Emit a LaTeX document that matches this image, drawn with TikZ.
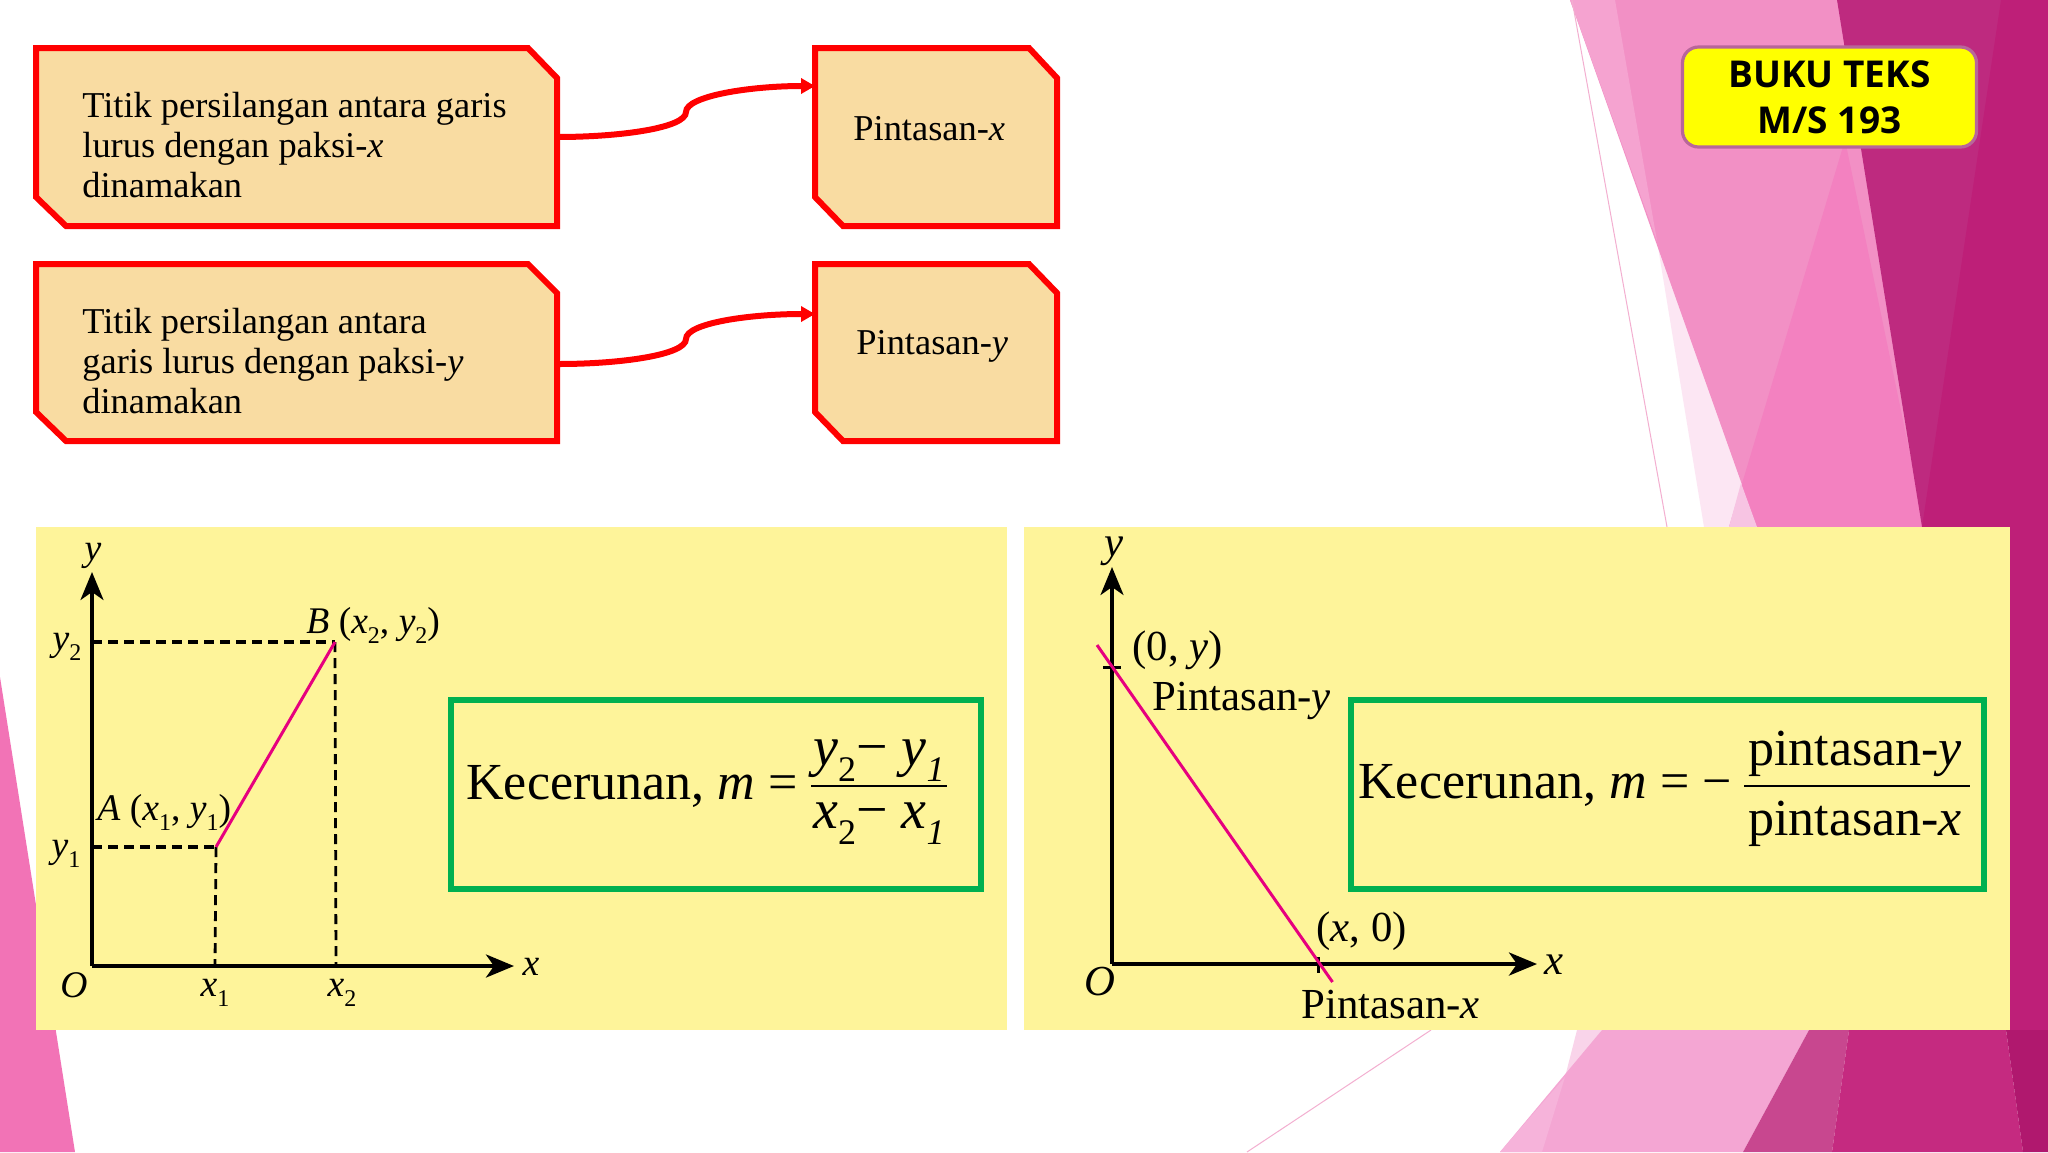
\documentclass[tikz,border=0pt]{standalone}
\usepackage{fontspec}
\setmainfont{Liberation Serif}
\newfontfamily\badgefont{Open Sans}
\usetikzlibrary{arrows.meta}
\definecolor{peach}{HTML}{F9DCA2}
\definecolor{panelyellow}{HTML}{FEF49A}
\definecolor{boxgreen}{HTML}{00B050}
\definecolor{linemagenta}{HTML}{E6007E}
\definecolor{badgeline}{HTML}{B8669A}
\definecolor{badgefill}{HTML}{FFFF00}
\definecolor{thinpink}{HTML}{F3AFD0}
\definecolor{leftpink}{HTML}{F273B6}
\definecolor{pale}{HTML}{FCE6F3}
\definecolor{sweep}{HTML}{F290C5}
\definecolor{sweeplight}{HTML}{F5A3D0}
\definecolor{midpink}{HTML}{F381C0}
\definecolor{overlap}{HTML}{F7C4E3}
\definecolor{darkpink}{HTML}{BE2A7F}
\definecolor{darkest}{HTML}{BE1F78}
\definecolor{bpale}{HTML}{F9D4EA}
\definecolor{blight}{HTML}{F4A6D3}
\definecolor{bsliver}{HTML}{F6B3DA}
\definecolor{bstrip}{HTML}{C8478F}
\definecolor{bdark}{HTML}{C52A80}
\definecolor{bdarkest}{HTML}{B0186E}
\newcommand{\lsub}[1]{\raisebox{-0.28em}{\fontsize{12}{12}\selectfont #1}}
\newcommand{\fsub}[1]{\raisebox{-0.3em}{\fontsize{18}{18}\selectfont #1}}
\tikzset{
  chamfer/.style={draw=red,line width=3pt,fill=peach,line join=miter},
  anchorbox/.style={inner sep=0pt,draw=none},
  boxtext/.style={anchor=base west,inner sep=0pt,font=\fontsize{18.2}{20}\selectfont,align=left},
  elbow/.style={draw=red,line width=3pt,-{Triangle[length=7pt,width=7.5pt]}},
  panel/.style={fill=panelyellow,draw=none},
  greenbox/.style={draw=boxgreen,line width=2.8pt,fill=none},
  axisline/.style={draw=black,line width=1.6pt,-{Stealth[length=14pt,width=11.5pt,inset=4pt]}},
  dashline/.style={draw=black,line width=1.4pt,dash pattern=on 5pt off 3pt},
  slopeline/.style={draw=linemagenta,line width=1.5pt},
  lbl/.style={anchor=base,inner sep=0pt,font=\fontsize{18.8}{21}\selectfont},
  lbltwo/.style={anchor=base,inner sep=0pt,font=\fontsize{21.4}{23}\selectfont},
  formula/.style={anchor=base,inner sep=0pt,font=\fontsize{26}{28}\selectfont},
  fracterm/.style={anchor=base,inner sep=0pt,font=\fontsize{28}{30}\selectfont},
  badge/.style={draw=badgeline,line width=1.6pt,fill=badgefill,rounded corners=8pt,align=center,
    inner sep=0pt,minimum width=147pt,minimum height=50pt,
    font=\badgefont\bfseries\fontsize{18.5}{23}\selectfont},
  hairline/.style={draw=thinpink,line width=0.5pt},
}
\begin{document}
\begin{tikzpicture}[x=0.5pt,y=-0.5pt]
\useasboundingbox (0,0) rectangle (2048,1152);
% background facets
\fill[white] (0,0) rectangle (2048,1152);
\fill[leftpink] (0,677) -- (75,1152) -- (0,1152) -- cycle;
\fill[pale] (1657,241) -- (1704,527) -- (1760,527) -- cycle;
\fill[sweep] (1570,0) -- (1840,0) -- (1925,527) -- (1757,527) -- cycle;
\fill[sweeplight] (1570,0) -- (1615,0) -- (1657,241) -- cycle;
\fill[midpink] (1845,140) -- (1925,527) -- (1729,527) -- cycle;
\fill[overlap] (1729,527) -- (1757,527) -- (1741,483) -- cycle;
\fill[darkpink] (1837,0) -- (2048,0) -- (2048,527) -- (1922,527) -- cycle;
\fill[darkest] (2001,0) -- (2048,0) -- (2048,1030) -- (2005,1030) -- (2005,527) -- (1922,527) -- cycle;
\draw[hairline] (1572,0) -- (1667,527);
% bottom facets
\fill[bpale] (1577,1030) -- (1602,1030) -- (1565,1077) -- cycle;
\fill[blight] (1602,1030) -- (1809,1030) -- (1743,1152) -- (1500,1152) -- cycle;
\fill[bsliver] (1565,1077) -- (1542,1152) -- (1500,1152) -- cycle;
\fill[bstrip] (1809,1030) -- (1849,1030) -- (1832,1152) -- (1743,1152) -- cycle;
\fill[bdark] (1849,1030) -- (2006,1030) -- (2023,1152) -- (1832,1152) -- cycle;
\fill[bdarkest] (2006,1030) -- (2048,1030) -- (2048,1152) -- (2023,1152) -- cycle;
\draw[hairline] (1431,1030) -- (1247,1152);

% top boxes
\draw[chamfer] (36,48) -- (528,48) -- (557,78) -- (557,226) -- (66,226) -- (36,197) -- cycle;
\draw[chamfer] (815,48) -- (1029,48) -- (1057,78) -- (1057,226) -- (843,226) -- (815,197) -- cycle;
\draw[chamfer] (36,264) -- (528,264) -- (557,293) -- (557,441) -- (66,441) -- (36,412) -- cycle;
\draw[chamfer] (815,264) -- (1029,264) -- (1057,293) -- (1057,441) -- (843,441) -- (815,412) -- cycle;
\node[anchorbox,minimum width=260.5pt,minimum height=89pt] (boxA) at (296.5,137) {};
\node[anchorbox,minimum width=121pt,minimum height=89pt] (boxB) at (936,137) {};
\node[anchorbox,minimum width=260.5pt,minimum height=88.5pt] (boxC) at (296.5,352.5) {};
\node[anchorbox,minimum width=121pt,minimum height=88.5pt] (boxD) at (936,352.5) {};
\node[boxtext,anchor=west] (textA) at (82,145) {Titik persilangan antara garis\\lurus dengan paksi-\textit{x}\\dinamakan};
\node[boxtext] (textB) at (853,140) {Pintasan-\textit{x}};
\node[boxtext,anchor=west] (textC) at (82,361) {Titik persilangan antara\\garis lurus dengan paksi-\textit{y}\\dinamakan};
\node[boxtext] (textD) at (856,354) {Pintasan-\textit{y}};
% connectors
\coordinate (endB) at (815,86);
\coordinate (startC) at (559,364);
\coordinate (endD) at (815,314);
\draw[elbow] (boxA.east) .. controls (620,137) and (686,128) .. (686,112)
   .. controls (686,96) and (750,86) .. (endB);
\draw[elbow] (startC) .. controls (620,364) and (686,355) .. (686,339)
   .. controls (686,323) and (750,314) .. (endD);

% badge
\node[badge] (badgeN) at (1829.5,97) {\raisebox{-1pt}{BUKU TEKS}\\\raisebox{-1pt}{M/S 193}};

% panels
\fill[panel] (36,527) rectangle (1007,1030);
\fill[panel] (1024,527) rectangle (2010,1030);

% chart 1
\coordinate (O1) at (92,966);
\coordinate (Y1) at (92,572);
\coordinate (X1) at (514,966);
\coordinate (PA) at (216,847);
\coordinate (PB) at (335,642);
\draw[dashline,line width=2.1pt] (92,642) -- (PB);
\draw[dashline,line width=2.1pt] (92,847) -- (PA);
\draw[dashline] (PB) -- (336,966);
\draw[dashline] (PA) -- (215,966);
\draw[axisline] (O1) -- (Y1);
\draw[axisline,line width=2pt] (O1) -- (X1);
\draw[slopeline] (PA) -- (PB);
\node[lbl] (ly) at (93,560) {\textit{y}};
\node[lbl] (ly2) at (67,650) {\textit{y}\lsub{2}};
\node[lbl] (ly1) at (66,857) {\textit{y}\lsub{1}};
\node[lbl] (lO) at (74,997) {\textit{O}};
\node[lbl] (lx1) at (215,996) {\textit{x}\lsub{1}};
\node[lbl] (lx2) at (342,996) {\textit{x}\lsub{2}};
\node[lbl] (lx) at (531,975) {\textit{x}};
\node[lbl,anchor=base west] (lB) at (306,633) {\textit{B} (\textit{x}\lsub{2}, \textit{y}\lsub{2})};
\node[lbl,anchor=base west] (lA) at (97,820) {\textit{A} (\textit{x}\lsub{1}, \textit{y}\lsub{1})};
% formula 1
\draw[greenbox] (451,700) rectangle (981,889);
\node[formula,anchor=base west] (f1) at (466,799) {Kecerunan, \textit{m} =};
\node[fracterm] (f1n) at (879,765) {\textit{y}\fsub{2}− \textit{y}\fsub{\textit{1}}};
\node[fracterm] (f1d) at (879,828) {\textit{x}\fsub{2}− \textit{x}\fsub{\textit{1}}};
\draw[line width=1.3pt] (811,786) -- (947,786);

% chart 2
\coordinate (O2) at (1112,964);
\coordinate (Y2) at (1112,567);
\coordinate (X2) at (1537,964);
\coordinate (LA) at (1097,645);
\coordinate (LB) at (1332.5,982);
\draw[axisline] (O2) -- (Y2);
\draw[axisline,line width=2pt] (O2) -- (X2);
\draw[line width=1.5pt] (1103,667) -- (1121,667);
\draw[line width=1.5pt] (1318,957) -- (1318,973);
\draw[slopeline] (LA) -- (LB);
\node[lbltwo] (my) at (1114,556) {\textit{y}};
\node[lbltwo,anchor=base west] (m0y) at (1132,660) {(0, \textit{y})};
\node[lbltwo,anchor=base west] (mpy) at (1152,710) {Pintasan-\textit{y}};
\node[lbltwo,anchor=base west] (mx0) at (1316,941) {(\textit{x}, 0)};
\node[lbltwo] (mx) at (1554,974) {\textit{x}};
\node[lbltwo] (mO) at (1100,995) {\textit{O}};
\node[lbltwo,anchor=base west] (mpx) at (1301,1018) {Pintasan-\textit{x}};
% formula 2
\draw[greenbox] (1351,700) rectangle (1984,889);
\node[formula,anchor=base west] (f2) at (1358,798) {Kecerunan, \textit{m} = −};
\node[formula] (f2n) at (1855,765) {pintasan-\textit{y}};
\node[formula] (f2d) at (1855,835) {pintasan-\textit{x}};
\draw[line width=1.3pt] (1744,786) -- (1970,786);
\end{tikzpicture}
\end{document}
